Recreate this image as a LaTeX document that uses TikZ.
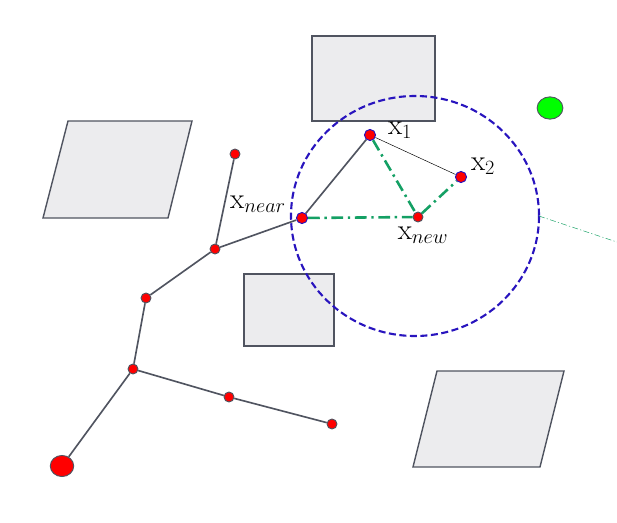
\documentclass[tikz,border=0pt]{standalone}
\usepackage[]{amsmath}
\usepackage{tikz}
\usetikzlibrary{shapes.geometric}
\definecolor{obst}{RGB}{236,236,238}
\definecolor{edge}{RGB}{80,84,96}
\definecolor{tgreen}{RGB}{20,160,100}
\definecolor{cblue}{RGB}{40,20,190}
\tikzset{
  vert/.style={circle,fill=red,draw=edge,thick,inner sep=0pt,minimum size=8.5pt},
  cand/.style={circle,fill=red,draw=cblue,thick,inner sep=0pt,minimum size=9.5pt},
  branch/.style={edge,line width=1.4pt},
  link/.style={tgreen,line width=2.2pt,dash pattern=on 10pt off 4pt on 2pt off 4pt},
  block/.style={fill=obst,draw=edge,line width=1.2pt},
  lbl/.style={font=\fontsize{27}{30}\selectfont}
}
\begin{document}
\begin{tikzpicture}[x=0.03cm,y=-0.03cm]
        \useasboundingbox (0,0) rectangle (617,522);
        % obstacles
        \draw[block] (312,36) rectangle (435,121);
        \draw[block] (244,274) rectangle (334,346);
        \draw[block] (68,121) -- (192,121) -- (168,218) -- (43,218) -- cycle;
        \draw[block] (437,371) -- (564,371) -- (540,467) -- (413,467) -- cycle;
        % neighbourhood
        \draw[cblue,line width=1.8pt,dash pattern=on 6pt off 3pt] (415,216) ellipse (124 and 120);
        \coordinate (rim) at (539,216);
        \coordinate (far) at (617,242);
        \draw[tgreen,thin,dash pattern=on 5pt off 2pt on 1pt off 2pt] (rim) -- (far);
        % goal
        \node[ellipse,fill=green,draw=edge,thick,inner sep=0pt,minimum width=22pt,minimum height=19pt] (goal) at (550,108) {};
        % tree
        \node[ellipse,fill=red,draw=edge,thick,inner sep=0pt,minimum width=20pt,minimum height=18pt] (root) at (62,466) {};
        \node[vert] (a) at (133,369) {};
        \node[vert] (b) at (146,298) {};
        \node[vert] (c) at (215,249) {};
        \node[vert] (d) at (235,154) {};
        \node[vert] (e) at (229,397) {};
        \node[vert] (f) at (332,424) {};
        \node[cand] (near) at (302,218) {};
        \node[cand] (x1) at (370,135) {};
        \node[cand] (x2) at (461,177) {};
        \node[vert] (new) at (418,217) {};
        \draw[branch] (root) -- (a) -- (b) -- (c) -- (d);
        \draw[branch] (c) -- (near) -- (x1);
        \draw[branch] (a) -- (e) -- (f);
        \draw[black,thin] (x1) -- (x2);
        \draw[link] (near) -- (new) -- (x2);
        \draw[link] (x1) -- (new);
        % labels
        \node[lbl] at (400,130) {$\mathrm{x}_1$};
        \node[lbl] at (483,166) {$\mathrm{x}_2$};
        \node[lbl] at (258,204) {$\mathrm{x}_{near}$};
        \node[lbl] at (423,235) {$\mathrm{x}_{new}$};
    \end{tikzpicture}
\end{document}
